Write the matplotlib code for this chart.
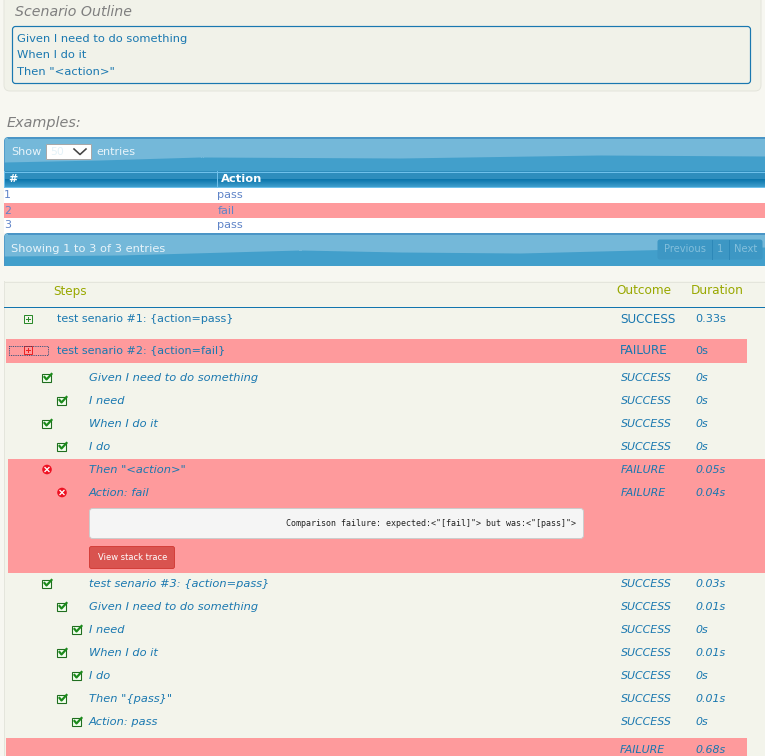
import numpy as np
import matplotlib
matplotlib.use("Agg")
import matplotlib.pyplot as plt
from matplotlib.patches import Rectangle, FancyBboxPatch, Circle

W, H = 765, 756
BG = "#f7f7f1"; PANEL = "#f3f4eb"; RED = "#fe9a9c"; BLUE = "#1a78b0"; OLIVE = "#99a800"
GREY = "#7f7f7f"; LINK = "#5f84c8"

outline_title = "Scenario Outline"
outline_lines = ['Given I need to do something', 'When I do it', 'Then "<action>"']
example_ids = ["1", "2", "3"]
example_actions = ["pass", "fail", "pass"]
example_failed = [False, True, False]
example_cols = ["#", "Action"]
step_cols = ["Steps", "Outcome", "Duration"]

group_rows = [("test senario #1: {action=pass}", "SUCCESS", "0.33s"),
              ("test senario #2: {action=fail}", "FAILURE", "0s")]
step_labels = ['Given I need to do something', 'I need', 'When I do it', 'I do',
               'Then "<action>"', 'Action: fail']
step_levels = [0, 1, 0, 1, 0, 1]
step_outcomes = ["SUCCESS"] * 4 + ["FAILURE"] * 2
step_durations = ["0s", "0s", "0s", "0s", "0.05s", "0.04s"]
lower_labels = ['test senario #3: {action=pass}', 'Given I need to do something', 'I need',
                'When I do it', 'I do', 'Then "{pass}"', 'Action: pass']
lower_levels = [0, 1, 2, 1, 2, 1, 2]
lower_outcomes = ["SUCCESS"] * 7
lower_durations = ["0.03s", "0.01s", "0s", "0.01s", "0s", "0.01s", "0s"]
error_text = 'Comparison failure: expected:<"[fail]"> but was:<"[pass]">'
button_text = "View stack trace"
last_outcome, last_duration = "FAILURE", "0.68s"

plt.rcParams["font.family"] = ["DejaVu Sans"]
fig = plt.figure(figsize=(W / 100, H / 100), dpi=100, facecolor=BG)
ax = fig.add_axes([0, 0, 1, 1])
ax.set_xlim(0, W); ax.set_ylim(H, 0); ax.axis("off")
PX = 0.72

def T(x, y, s, size=11, color=BLUE, **kw):
    kw.setdefault("va", "center")
    ax.text(x, y, s, fontsize=size * PX, color=color, **kw)

def R(x, y, w, h, c, z=1, **kw):
    ax.add_patch(Rectangle((x, y), w, h, facecolor=c, edgecolor=kw.pop("ec", "none"), zorder=z, **kw))

def RB(x, y, w, h, fc, ec, r=3, lw=1, z=2):
    p = FancyBboxPatch((x + r, y + r), w - 2 * r, h - 2 * r,
                       boxstyle=f"round,pad={r},rounding_size={r}",
                       facecolor=fc, edgecolor=ec, linewidth=lw * PX, zorder=z)
    ax.add_patch(p)
    return p

def banner(y0, y1, wave_x, wave_y):
    base = RB(4.5, y0, 790, y1 - y0 + 6, "#429fcb", "#4a95c6", r=4, z=2)
    xs = np.linspace(4, 765, 200)
    wy = np.interp(xs, wave_x, wave_y)
    band = ax.fill_between(xs, y0, wy, color="#74b8d9", lw=0, zorder=3)
    band.set_clip_path(base)
    ax.plot([8, 765], [y0, y0], color="#4a95c6", lw=1 * PX, zorder=4)
    R(0, y1, 4, 8, BG, 3)
    R(4, y1, 761, 8, BG, 3)

# Scenario outline panel
RB(4, -10, 757, 101, "#f1f2e9", "#e4e5dc", r=6, z=1)
T(15, 12, outline_title, 14.1, GREY, style="italic")
RB(12.5, 26.5, 738, 57, "#f1f2e9", "#1a78b0", r=3, lw=1.2)
for i, s in enumerate(outline_lines):
    T(17, 39 + i * 16.5, s, 11.5)

# Page sections below are painted back to front
# Examples
T(7, 123, "Examples:", 14.4, GREY, style="italic")
banner(137.5, 171, [4, 100, 200, 400, 600, 765], [162, 160, 157, 158, 155, 156])
T(11, 152, "Show", 11.2, "#e8f4fa", zorder=6)
RB(46.5, 144.5, 45, 15, "#ffffff", "#a8a8a8", r=0.5, z=5)
T(50, 152, "50", 11, "#e4f2f8", zorder=6)
ax.plot([74, 80, 86], [149, 154.5, 149], color="#444444", lw=1.6 * PX, zorder=6)
T(96, 152, "entries", 11.2, "#e8f4fa", zorder=6)
# head row
R(4, 171, 761, 8, "#2e8dbd", 5)
ax.imshow(np.linspace(0, 1, 8)[:, None], extent=(4, 765, 187, 179), aspect="auto", zorder=5,
          cmap=matplotlib.colors.LinearSegmentedColormap.from_list("h", ["#0c76ac", "#3c9ccb"]))
ax.set_xlim(0, W); ax.set_ylim(H, 0)
ax.plot([4, 765], [171.5, 171.5], color="#6fc0ea", lw=1 * PX, zorder=6)
ax.plot([4, 765], [187, 187], color="#6fc0ea", lw=1 * PX, zorder=6)
ax.plot([4.5, 4.5], [171, 187], color="#6fc0ea", lw=1 * PX, zorder=6)
ax.plot([217.5, 217.5], [171, 187], color="#6fc0ea", lw=1 * PX, zorder=6)
T(8, 179, example_cols[0], 11, "white", weight="bold", zorder=7)
T(221, 179, example_cols[1], 11.5, "white", weight="bold", zorder=7)
for i, (a, b, f) in enumerate(zip(example_ids, example_actions, example_failed)):
    y = 188 + i * 15
    R(4, y, 761, 15, RED if f else "white", 2)
    T(4, y + 7.5, a, 11, LINK, zorder=5)
    T(217.5, y + 7.5, b, 11.2, LINK, zorder=5)
banner(233.5, 266, [4, 120, 300, 400, 520, 640, 765], [256, 255, 250, 252, 253, 250, 247])
T(11, 249, "Showing 1 to 3 of 3 entries", 11.35, "#e8f4fa", zorder=6)
RB(658, 240, 104, 19, "#3d97c4", "#3d97c4", r=2, z=5)
for x in (712, 729):
    ax.plot([x, x], [240, 259], color="#2d88b8", lw=1 * PX, zorder=6)
for x, s, fs in ((664.5, "Previous", 9.9), (717, "1", 9.9), (734, "Next", 10)):
    T(x, 249.5, s, fs, "#83bfdc", zorder=6)

# Steps table
R(4, 281, 761, 475, PANEL, 4)
ax.plot([4, 765], [281.5, 281.5], color="#e4e5dc", lw=1 * PX, zorder=5)
ax.plot([4.5, 4.5], [281, 756], color="#e4e5dc", lw=1 * PX, zorder=5)
ax.plot([4, 765], [306.5, 306.5], color="#1274ae", lw=1 * PX, zorder=5)
T(53, 291, step_cols[0], 12, OLIVE, zorder=5)
T(616, 291, step_cols[1], 12.1, OLIVE, zorder=5)
T(691, 291, step_cols[2], 12.1, OLIVE, zorder=5)

def plusbox(cx, cy, c):
    R(cx - 4, cy - 4, 8, 8, "none", 8, ec=c, lw=1 * PX)
    ax.plot([cx - 2, cx + 2], [cy, cy], color=c, lw=1 * PX, zorder=8)
    ax.plot([cx, cx], [cy - 2, cy + 2], color=c, lw=1 * PX, zorder=8)

def check(cx, cy):
    R(cx - 4.5, cy - 4, 8.5, 8, "#f4fff0", 8, ec="#1f6e1f", lw=1.1 * PX)
    ax.plot([cx - 2.5, cx - 0.5, cx + 4.5], [cy - 0.5, cy + 2, cy - 3.5], color="#1c8a1c", lw=2.2 * PX, zorder=9)

def cross(cx, cy):
    ax.add_patch(Circle((cx, cy), 4.8, facecolor="#ee1122", edgecolor="none", zorder=8))
    for d in (1, -1):
        ax.plot([cx - 2, cx + 2], [cy - 2 * d, cy + 2 * d], color="white", lw=1.3 * PX, zorder=9)

R(6, 339, 741, 24, RED, 5)
ys = [319.5, 350.5]
for (s, o, d), y in zip(group_rows, ys):
    T(57, y, s, 11.15, zorder=7)
    T(620, y, o, 12, zorder=7)
    T(695, y, d, 11.2, zorder=7)
plusbox(28, 319, "#2a8a2a")
plusbox(28, 350, "#ee2222")
R(9.5, 346, 39, 9, "none", 8, ec="#1a4a7a", lw=0.9 * PX, linestyle=(0, (1, 1)))

R(8, 459, 757, 114, RED, 5)
ICON_X = [47, 62, 77]
def steps(labels, levels, outcomes, durations, y0):
    for i, (s, l, o, d) in enumerate(zip(labels, levels, outcomes, durations)):
        y = y0 + i * 23
        T(89, y, s, 11.4, style="italic", zorder=7)
        T(621, y, o, 11, style="italic", zorder=7)
        T(695, y, d, 11, style="italic", zorder=7)
        (cross if o == "FAILURE" else check)(ICON_X[l], y - 0.5)

steps(step_labels, step_levels, step_outcomes, step_durations, 378)
RB(89.5, 508.5, 494, 30, "#f5f5f5", "#cccccc", r=3, z=6)
T(286, 523, error_text, 8.33, "#222222", family="DejaVu Sans Mono", zorder=7)
RB(89.5, 546.5, 85, 22, "#d9534f", "#d43f3a", r=2, z=6)
T(98, 558, button_text, 8.4, "#ffffff", zorder=7)
steps(lower_labels, lower_levels, lower_outcomes, lower_durations, 584)

R(6, 738, 741, 18, RED, 5)
T(620, 750, last_outcome, 11, style="italic", zorder=7)
T(695, 750, last_duration, 11, style="italic", zorder=7)

fig.savefig("out.png", dpi=100, facecolor=BG)
